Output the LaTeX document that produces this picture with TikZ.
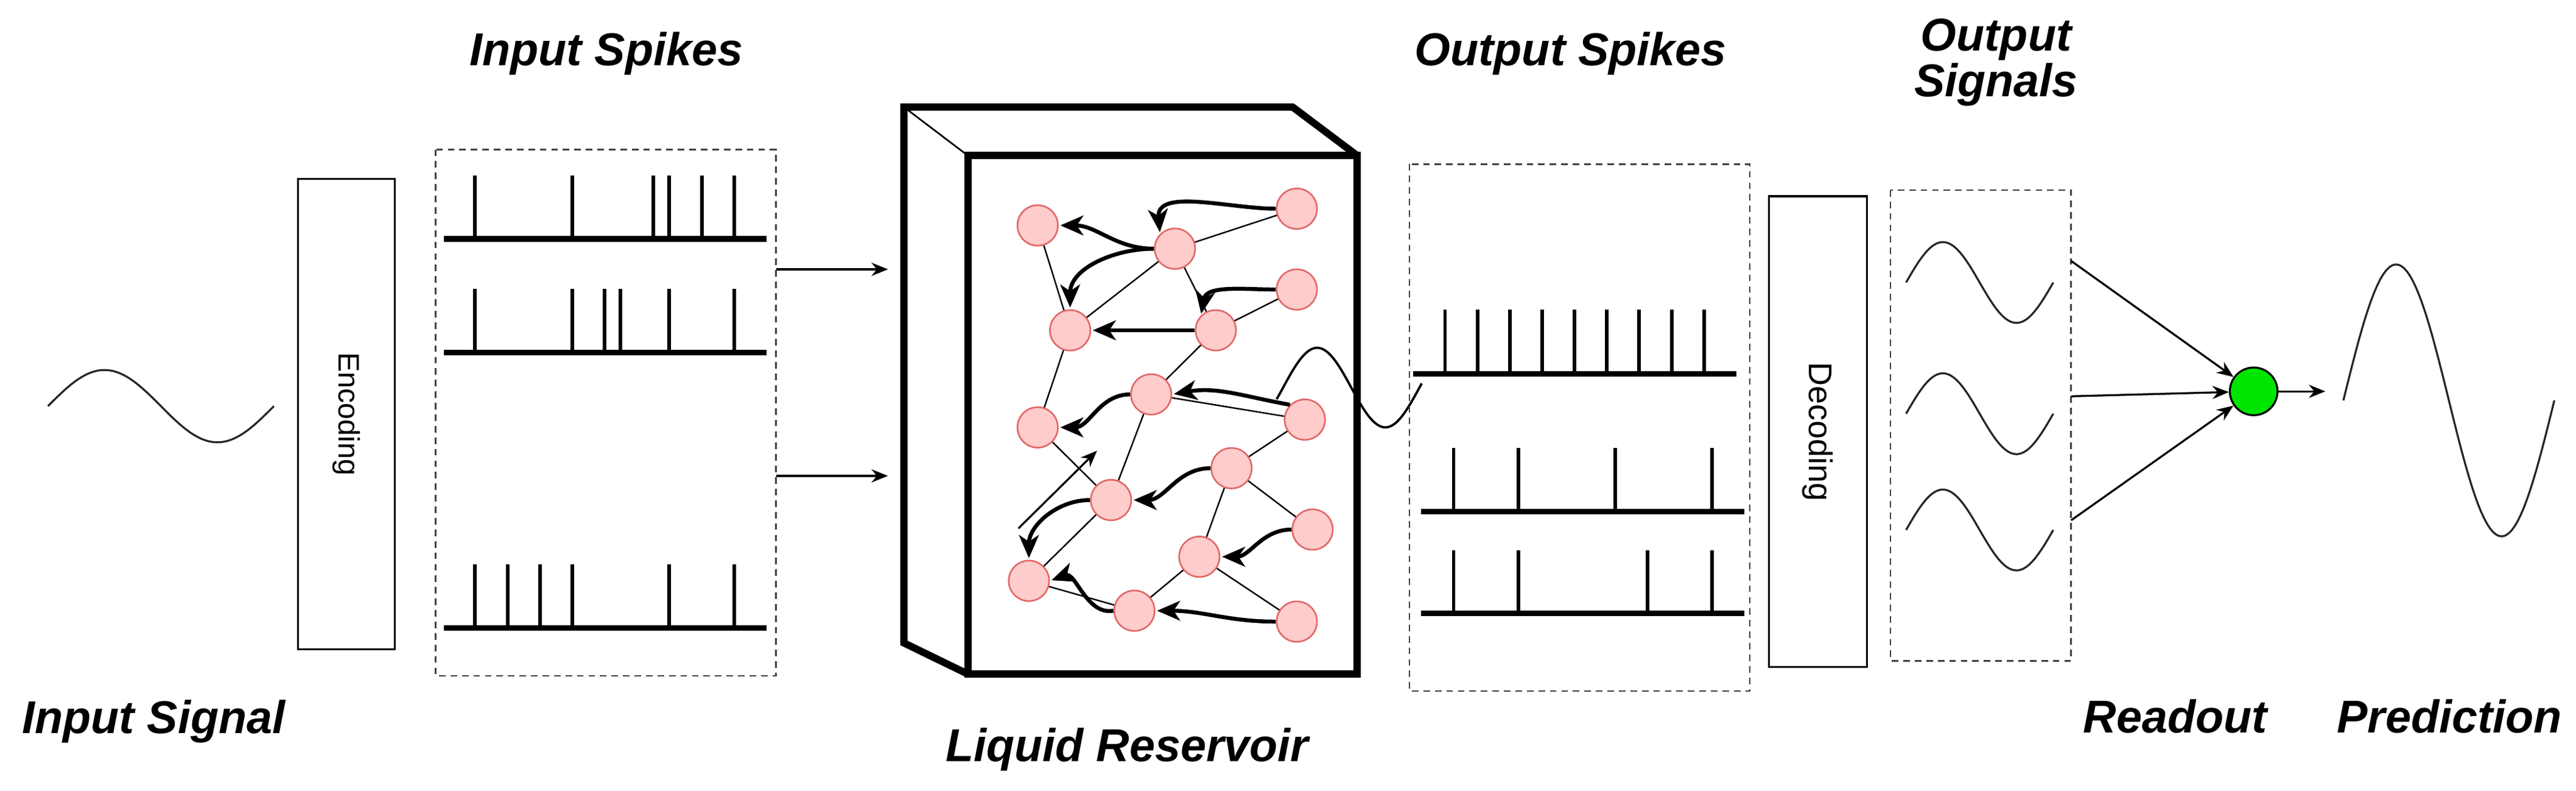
\documentclass[tikz,border=0pt]{standalone}
\usepackage{fontspec}
\setmainfont{Liberation Sans}
\usetikzlibrary{arrows.meta}
\definecolor{nodefill}{RGB}{255,204,204}
\definecolor{nodeline}{RGB}{225,105,105}
\definecolor{readgreen}{RGB}{0,230,0}
\tikzset{
  title/.style={font=\fontsize{14}{16}\selectfont\bfseries\itshape},
  dashbox/.style={draw=black!75,line width=0.5pt,dash pattern=on 2pt off 1.5pt},
  codebox/.style={draw,line width=0.6pt},
  spike/.style={line width=1.1pt},
  base/.style={line width=1.7pt},
  wave/.style={line width=0.6pt,black!85},
  neuron/.style={circle,draw=nodeline,fill=nodefill,line width=0.5pt,minimum size=12.3pt,inner sep=0pt},
  syn/.style={line width=0.45pt},
  flow/.style={line width=1.2pt,shorten >=0.5pt,-{Stealth[length=7pt,width=6pt,inset=2pt]}},
  lead/.style={line width=0.6pt,-{Stealth[length=5pt,width=4pt]}}
}

\begin{document}
\begin{tikzpicture}[x=0.5pt,y=0.5pt,yscale=-1]
\useasboundingbox (0,0) rectangle (1568,480.7);

% Input signal and encoding
\draw[wave] plot[domain=0:360,samples=60] ({29.2+\x/360*137.5},{247-22*sin(\x)});
\draw[codebox] (181.4,108.7) rectangle (240.4,395);
\node[rotate=-90,font=\fontsize{9}{10}\selectfont] (enc) at (210.9,251.8) {Encoding};

% Input spikes
\draw[dashbox] (265.2,91) rectangle (472.4,411);
\foreach \y/\t/\xs in {145.3/106.6/{289.2,348.3,397.6,407.4,427.2,447},
                        214.4/175.5/{289.2,348.3,367.9,377.8,407.4,447},
                        382/343/{289.2,309,328.7,348.3,407.4,447}}{
  \draw[base] (270,\y) -- (466.5,\y);
  \foreach \x in \xs \draw[spike] (\x,\y) -- (\x,\t);
}
\coordinate (inA) at (472.4,163.8);
\coordinate (inB) at (472.4,289.4);
\coordinate (resA) at (540.5,163.8);
\coordinate (resB) at (540.5,289.4);
\draw[lead] (inA) -- (resA);
\draw[lead] (inB) -- (resB);

% Liquid reservoir box
\draw[line width=0.5pt] (550.2,65.1) -- (589.1,94.6);
\draw[line width=2.2pt,line join=miter] (589.1,409.9) -- (550.2,391) -- (550.2,65.1) -- (786.8,65.1) -- (826.1,94.6);
\draw[line width=2.2pt] (589.1,94.6) rectangle (826.1,409.9);

\begin{scope}[shift={(537,55.6)},xscale=0.2126,yscale=0.2362]
  \node[neuron] (n1) at (445,345) {};
  \node[neuron] (n2) at (838,405) {};
  \node[neuron] (n3) at (1187,302) {};
  \node[neuron] (n4) at (1187,510) {};
  \node[neuron] (n5) at (538,615) {};
  \node[neuron] (n6) at (955,615) {};
  \node[neuron] (n7) at (770,780) {};
  \node[neuron] (n8) at (445,865) {};
  \node[neuron] (n9) at (1210,845) {};
  \node[neuron] (n10) at (1000,970) {};
  \node[neuron] (n11) at (655,1052) {};
  \node[neuron] (n12) at (1232,1128) {};
  \node[neuron] (n13) at (908,1198) {};
  \node[neuron] (n14) at (420,1260) {};
  \node[neuron] (n15) at (722,1337) {};
  \node[neuron] (n16) at (1187,1365) {};
  \coordinate (kA) at (390,1125);
  \coordinate (kB) at (615,925);
\end{scope}
% synapses
\foreach \a/\b in {n1/n5,n2/n3,n2/n5,n2/n6,n6/n4,n6/n7,n5/n8,n7/n9,n7/n11,n8/n11,
                   n9/n10,n10/n13,n10/n12,n11/n14,n13/n15,n13/n16,n14/n15}
  \draw[syn] (\a) -- (\b);
% spike flow (y axis is flipped, so "from above" is -90)
\draw[flow] (n3.west) to[out=180,in=-95] (n2.north west);
\draw[flow] (n2.west) to[out=180,in=0] (n1.east);
\draw[flow] (n2.west) to[out=180,in=-90] (n5.north);
\draw[flow] (n4.west) to[out=180,in=-80] (n6.north west);
\draw[flow] (n6.west) -- (n5.east);
\draw[flow] (n9.north west) to[out=-170,in=-10] (n7.east);
\draw[flow] (n7.west) to[out=180,in=0] (n8.east);
\draw[flow] (n10.west) to[out=180,in=0] (n11.east);
\draw[flow] (n11.west) to[out=180,in=-90] (n14.north);
\draw[flow] (n12.west) to[out=180,in=0] (n13.east);
\draw[flow] (n16.west) to[out=180,in=0] (n15.east);
\draw[flow] (n15.west) to[out=170,in=-20] (n14.east);
\draw[lead] (kA) -- (kB);
\draw[wave,line width=0.7pt,black] plot[domain=-17:366,samples=60] ({781+\x/360*83},{235.7-24.2*sin(\x)});

% Output spikes
\draw[dashbox] (857.9,99.8) rectangle (1065.1,420.3);
\draw[base] (860,227.3) -- (1057,227.3);
\foreach \x in {879.6,899.4,919,938.8,958.4,978,997.7,1017.6,1037.4}
  \draw[spike] (\x,227.3) -- (\x,188.4);
\foreach \y/\t/\xs in {311.2/272.5/{884.8,924.1,983.1,1042},
                        373.1/334.5/{884.8,924.1,1002.9,1042}}{
  \draw[base] (865,\y) -- (1061.6,\y);
  \foreach \x in \xs \draw[spike] (\x,\y) -- (\x,\t);
}

% Decoding and output signals
\draw[codebox] (1076.8,119.3) rectangle (1136.3,405.7);
\node[rotate=-90,font=\fontsize{10}{11}\selectfont] (dec) at (1106.5,262.5) {Decoding};
\draw[dashbox] (1150.7,115.6) rectangle (1260.7,401.8);
\foreach \yc in {171.8,251.6,322.3}
  \draw[wave] plot[domain=0:360,samples=50] ({1160.2+\x/360*89.6},{\yc-24.6*sin(\x)});

% Readout
\node[circle,draw,fill=readgreen,line width=0.6pt,minimum size=14.5pt,inner sep=0pt] (out) at (1371.8,238) {};
\coordinate (sA) at (1260.7,158.7);
\coordinate (sB) at (1260.7,241);
\coordinate (sC) at (1260.7,316.4);
\coordinate (pred) at (1415.4,238);
\foreach \s in {sA,sB,sC} \draw[lead] (\s) -- (out);
\draw[lead] (out) -- (pred);
\draw[wave] plot[domain=0:360,samples=70] ({1426.4+\x/360*128.4},{243.5-82.7*sin(\x)});

% Labels
\node[title,anchor=base] (tInSig) at (93.5,446) {Input Signal};
\node[title,anchor=base] (tInSp) at (369,40) {Input Spikes};
\node[title,anchor=base] (tRes) at (686,463) {Liquid Reservoir};
\node[title,anchor=base] (tOutSp) at (956,40) {Output Spikes};
\node[title,align=center] (tOutSig) at (1215,38) {Output\\[-2pt]Signals};
\node[title,anchor=base] (tRead) at (1324,445.7) {Readout};
\node[title,anchor=base] (tPred) at (1491,445.7) {Prediction};
\end{tikzpicture}
\end{document}
